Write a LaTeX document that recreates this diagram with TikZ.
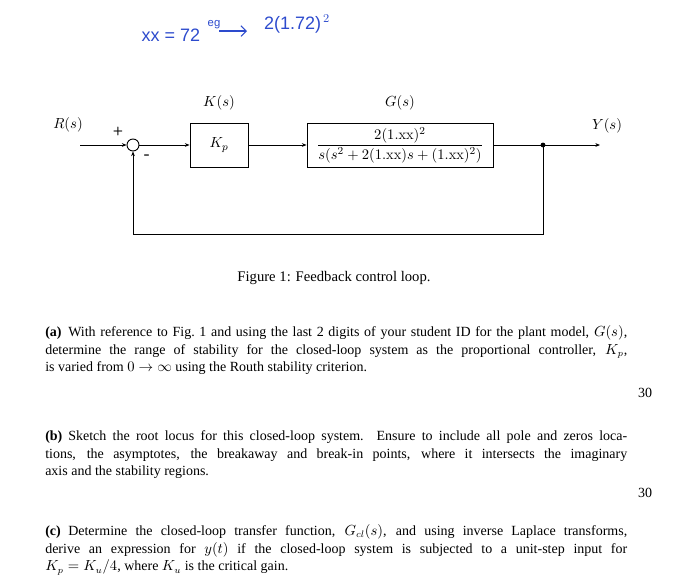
\documentclass[tikz,border=0pt]{standalone}
\usepackage{fontspec}
\usepackage{amsmath}
\newfontfamily\tms{Liberation Serif}
\newfontfamily\hand{Liberation Sans}
\usetikzlibrary{arrows.meta}
\definecolor{handblue}{RGB}{45,75,205}
\begin{document}
\begin{tikzpicture}[x=0.75pt,y=-0.75pt,
  blk/.style={draw, line width=0.7pt, minimum height=33pt, inner sep=2pt, font=\fontsize{11}{13}\selectfont},
  arr/.style={line width=0.7pt, -{Stealth[length=3.5pt,width=2.8pt]}},
  ln/.style={line width=0.7pt},
  lbl/.style={font=\fontsize{11}{13}\selectfont},
  para/.style={anchor=north west, inner sep=0pt, text width=436.5pt, align=justify, font=\tms\fontsize{10.5}{13.4}\selectfont},
  hw/.style={text=handblue, font=\hand\fontsize{13.5}{15}\selectfont}]
\useasboundingbox (0,0) rectangle (700,587);

% handwritten note
\node[hw] (hw1) at (171,35) {xx = 72};
\node[hw, font=\hand\fontsize{8.5}{9}\selectfont] (hw2) at (214,25) {eg};
\coordinate (ha) at (219,31);
\coordinate (hb) at (247,31);
\draw[handblue, line width=0.8pt, -{Straight Barb[length=4pt]}] (ha) -- (hb);
\node[hw] (hw3) at (297,24) {2(1.72)$^{\,2}$};

% block diagram
\node[circle, draw, line width=0.7pt, minimum size=9pt, inner sep=0pt] (sum) at (133,145) {};
\node[blk, minimum width=43.5pt] (kp) at (219,145) {$K_p$};
\node[blk, minimum width=139.5pt] (g) at (400,145) {$\dfrac{2(1.\mathrm{xx})^2}{s(s^2+2(1.\mathrm{xx})s+(1.\mathrm{xx})^2)}$};
\coordinate (rin) at (80,145);
\coordinate (tap) at (543,145);
\coordinate (yout) at (600,145);
\coordinate (fb) at (543,234);
\coordinate (fbl) at (133,234);

\draw[arr] (rin) -- (sum.west);
\draw[arr] (sum.east) -- (kp.west);
\draw[arr] (kp.east) -- (g.west);
\draw[arr] (g.east) -- (yout);
\fill (tap) circle (1.8pt);
\draw[arr] (tap) -- (fb) -- (fbl) -- (sum.south);

\node[lbl] (rl) at (68,125) {$R(s)$};
\node[font=\sffamily\bfseries\fontsize{9}{10}\selectfont] (plus) at (118,131) {+};
\node[font=\sffamily\bfseries\fontsize{13}{13}\selectfont] (minus) at (147,157) {-};
\node[lbl] (kl) at (219,103) {$K(s)$};
\node[lbl] (gl) at (400,103) {$G(s)$};
\node[lbl] (yl) at (607,126) {$Y(s)$};

\node[font=\tms\fontsize{11}{12}\selectfont] (cap) at (334,278) {Figure 1: Feedback control loop.};

% questions
\node[para] (qa) at (45,325) {\noindent\hangindent=17.25pt\hangafter=1\makebox[17.25pt][l]{\textbf{(a)}}With reference to Fig.~1 and using the last 2 digits of your student ID for the plant model, $G(s)$,\linebreak determine the range of stability for the closed-loop system as the proportional controller, $K_p$,\linebreak is varied from $0\rightarrow\infty$ using the Routh stability criterion.};

\node[font=\tms\fontsize{10.5}{12}\selectfont] (n1) at (645,393) {30};

\node[para] (qb) at (45,430) {\noindent\hangindent=17.25pt\hangafter=1\makebox[17.25pt][l]{\textbf{(b)}}Sketch the root locus for this closed-loop system. Ensure to include all pole and zeros loca-\linebreak tions, the asymptotes, the breakaway and break-in points, where it intersects the imaginary\linebreak axis and the stability regions.};

\node[font=\tms\fontsize{10.5}{12}\selectfont] (n2) at (645,493) {30};

\node[para] (qc) at (45,524) {\noindent\hangindent=17.25pt\hangafter=1\makebox[17.25pt][l]{\textbf{(c)}}Determine the closed-loop transfer function, $G_{cl}(s)$, and using inverse Laplace transforms,\linebreak derive an expression for $y(t)$ if the closed-loop system is subjected to a unit-step input for\linebreak $K_p=K_u/4$, where $K_u$ is the critical gain.};
\end{tikzpicture}
\end{document}
